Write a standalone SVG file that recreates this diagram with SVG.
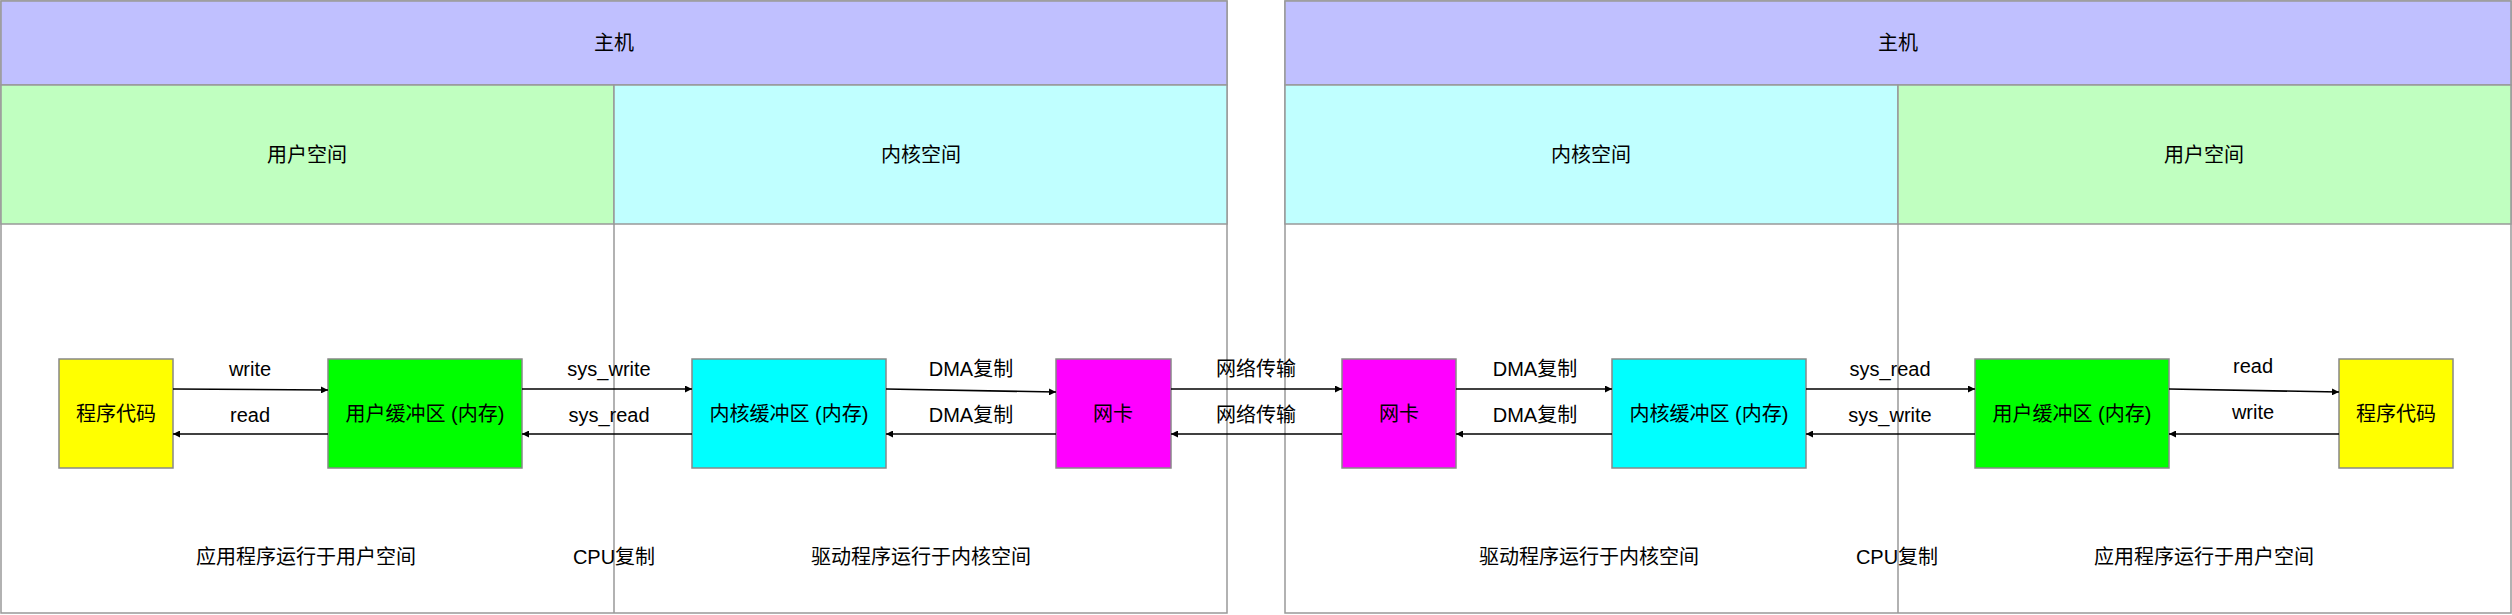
<svg xmlns="http://www.w3.org/2000/svg" width="2512" height="615" viewBox="0 0 2512 615">
<defs>
<marker id="ah" viewBox="0 0 10 10" refX="10" refY="5" markerWidth="7" markerHeight="7" orient="auto" markerUnits="userSpaceOnUse"><path d="M0,0 L10,5 L0,10 z" fill="#000"/></marker>
<style>
text{font-family:"Liberation Sans","Noto Sans CJK SC",sans-serif;font-size:20px;text-anchor:middle;dominant-baseline:central;fill:#000}
.f{stroke:#999;stroke-width:1.5}
.n{stroke:#888;stroke-width:1.5}
.c{stroke:#000;stroke-width:1.6;fill:none;marker-end:url(#ah)}
</style>
</defs>
<rect width="2512" height="615" fill="#fff"/>
<g id="host-left">
<rect class="f" x="1" y="1" width="1226" height="612" fill="#fff"/>
<rect class="f" x="1" y="1" width="1226" height="84" fill="#c0c0ff"/>
<text x="614" y="43">主机</text>
<rect class="f" x="1" y="85" width="613" height="139" fill="#c0ffc0"/>
<text x="307" y="155">用户空间</text>
<rect class="f" x="614" y="85" width="613" height="139" fill="#c0ffff"/>
<text x="921" y="155">内核空间</text>
<line class="f" x1="614" y1="224" x2="614" y2="613"/>
<text x="306" y="557">应用程序运行于用户空间</text>
<text x="614" y="557">CPU复制</text>
<text x="921" y="557">驱动程序运行于内核空间</text>
</g>
<g id="host-right">
<rect class="f" x="1285" y="1" width="1226" height="612" fill="#fff"/>
<rect class="f" x="1285" y="1" width="1226" height="84" fill="#c0c0ff"/>
<text x="1898" y="43">主机</text>
<rect class="f" x="1285" y="85" width="613" height="139" fill="#c0ffff"/>
<text x="1591" y="155">内核空间</text>
<rect class="f" x="1898" y="85" width="613" height="139" fill="#c0ffc0"/>
<text x="2204" y="155">用户空间</text>
<line class="f" x1="1898" y1="224" x2="1898" y2="613"/>
<text x="1589" y="557">驱动程序运行于内核空间</text>
<text x="1897" y="557">CPU复制</text>
<text x="2204" y="557">应用程序运行于用户空间</text>
</g>
<g id="n-code-l"><rect class="n" x="59" y="359" width="114" height="109" fill="#ffff00"/><text x="116" y="414">程序代码</text></g>
<g id="n-ubuf-l"><rect class="n" x="328" y="359" width="194" height="109" fill="#00ff00"/><text x="425" y="414">用户缓冲区 (内存)</text></g>
<g id="n-kbuf-l"><rect class="n" x="692" y="359" width="194" height="109" fill="#00ffff"/><text x="789" y="414">内核缓冲区 (内存)</text></g>
<g id="n-nic-l"><rect class="n" x="1056" y="359" width="115" height="109" fill="#ff00ff"/><text x="1113" y="414">网卡</text></g>
<g id="n-nic-r"><rect class="n" x="1342" y="359" width="114" height="109" fill="#ff00ff"/><text x="1399" y="414">网卡</text></g>
<g id="n-kbuf-r"><rect class="n" x="1612" y="359" width="194" height="109" fill="#00ffff"/><text x="1709" y="414">内核缓冲区 (内存)</text></g>
<g id="n-ubuf-r"><rect class="n" x="1975" y="359" width="194" height="109" fill="#00ff00"/><text x="2072" y="414">用户缓冲区 (内存)</text></g>
<g id="n-code-r"><rect class="n" x="2339" y="359" width="114" height="109" fill="#ffff00"/><text x="2396" y="414">程序代码</text></g>
<g id="connectors">
<line class="c" x1="173" y1="389" x2="328" y2="390"/>
<line class="c" x1="328" y1="434" x2="173" y2="434"/>
<line class="c" x1="522" y1="389" x2="692" y2="389"/>
<line class="c" x1="692" y1="434" x2="522" y2="434"/>
<line class="c" x1="886" y1="389" x2="1056" y2="392"/>
<line class="c" x1="1056" y1="434" x2="886" y2="434"/>
<line class="c" x1="1171" y1="389" x2="1342" y2="389"/>
<line class="c" x1="1342" y1="434" x2="1171" y2="434"/>
<line class="c" x1="1456" y1="389" x2="1612" y2="389"/>
<line class="c" x1="1612" y1="434" x2="1456" y2="434"/>
<line class="c" x1="1806" y1="389" x2="1975" y2="389"/>
<line class="c" x1="1975" y1="434" x2="1806" y2="434"/>
<line class="c" x1="2169" y1="389" x2="2339" y2="392"/>
<line class="c" x1="2339" y1="434" x2="2169" y2="434"/>
<text x="250" y="369">write</text>
<text x="250" y="415">read</text>
<text x="609" y="369">sys_write</text>
<text x="609" y="415">sys_read</text>
<text x="971" y="369">DMA复制</text>
<text x="971" y="415">DMA复制</text>
<text x="1256" y="369">网络传输</text>
<text x="1256" y="415">网络传输</text>
<text x="1535" y="369">DMA复制</text>
<text x="1535" y="415">DMA复制</text>
<text x="1890" y="369">sys_read</text>
<text x="1890" y="415">sys_write</text>
<text x="2253" y="366">read</text>
<text x="2253" y="412">write</text>
</g>
</svg>
